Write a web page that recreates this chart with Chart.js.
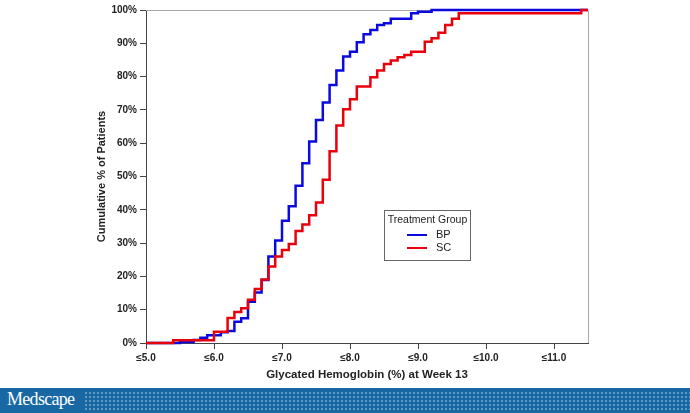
<!DOCTYPE html>
<html>
<head>
<meta charset="utf-8">
<script src="https://cdn.jsdelivr.net/npm/chart.js@4.4.0/dist/chart.umd.min.js"></script>
<style>
  html, body { margin: 0; padding: 0; background: #fff; }
  #wrap { position: relative; width: 690px; height: 388px; }
  #footer { position: relative; width: 690px; height: 25px; background: #1768a3; overflow: hidden; }
  #footer .logo { position: absolute; left: 7px; top: 1px; color: #fff; font: 18px "Liberation Serif", serif; letter-spacing: -0.7px; }
  #footer .dots { position: absolute; left: 84px; right: 0; top: 3px; bottom: 2px;
    background-image: radial-gradient(circle, rgba(255,255,255,0.5) 0.6px, transparent 0.9px);
    background-size: 4px 4px; }
</style>
</head>
<body>
<div id="wrap"><canvas id="grafica"></canvas></div>
<div id="footer"><span class="logo">Medscape</span><div class="dots"></div></div>
<script>
// curvas acumuladas (x = HbA1c, y = % acumulado)
const bpX = [5.0, 5.5, 5.7, 5.8, 5.9, 6.1, 6.2, 6.3, 6.4, 6.5, 6.6, 6.7, 6.8, 6.9, 7.0, 7.1, 7.2, 7.3, 7.4, 7.5, 7.6, 7.7, 7.8, 7.9, 8.0, 8.1, 8.2, 8.3, 8.4, 8.5, 8.6, 8.9, 9.0, 9.2, 11.5];
const bpY = [0, 0.3, 0.9, 1.6, 2.3, 3.2, 3.6, 6.4, 7.4, 12.4, 15.2, 18.9, 26.0, 30.8, 36.7, 41.1, 47.2, 54.0, 60.5, 67.0, 72.2, 77.5, 81.8, 86.0, 87.5, 90.3, 92.7, 94.0, 95.5, 96.0, 97.4, 99.0, 99.5, 100, 100];
const scX = [5.0, 5.4, 6.0, 6.2, 6.3, 6.4, 6.5, 6.6, 6.7, 6.8, 6.9, 7.0, 7.1, 7.2, 7.3, 7.4, 7.5, 7.6, 7.7, 7.8, 7.9, 8.0, 8.1, 8.3, 8.4, 8.5, 8.6, 8.7, 8.8, 8.9, 9.1, 9.2, 9.3, 9.4, 9.5, 9.6, 11.4, 11.5];
const scY = [0, 0.8, 3.4, 7.5, 9.3, 10.4, 13.0, 16.2, 19.1, 23.0, 26.0, 27.9, 29.7, 33.6, 35.6, 38.4, 42.2, 49.0, 57.6, 65.3, 70.2, 73.2, 77.0, 79.8, 81.8, 83.8, 84.8, 85.8, 86.5, 87.5, 90.5, 91.5, 93.2, 95.5, 97.4, 99.0, 100, 100];
const xTicks = [5, 6, 7, 8, 9, 10, 11];
const yTicks = [0, 10, 20, 30, 40, 50, 60, 70, 80, 90, 100];
const groups = ['BP', 'SC'];

const toPoints = (xs, ys) => xs.map((x, i) => ({ x: x, y: ys[i] }));

// borde superior/derecho gris + leyenda dentro del area
const extras = {
    id: 'extras',
    beforeDatasetsDraw(chart) {
        const { ctx, chartArea: a } = chart;
        ctx.save();
        ctx.strokeStyle = '#a8a8a8';
        ctx.lineWidth = 1;
        ctx.beginPath();
        ctx.moveTo(a.left, a.top + 0.5);
        ctx.lineTo(a.right + 0.5, a.top + 0.5);
        ctx.lineTo(a.right + 0.5, a.bottom);
        ctx.stroke();
        ctx.restore();
    },
    afterDatasetsDraw(chart) {
        const { ctx } = chart;
        const bx = 384, by = 210, bw = 86, bh = 50;
        ctx.save();
        ctx.fillStyle = '#fff';
        ctx.fillRect(bx, by, bw, bh);
        ctx.strokeStyle = '#666';
        ctx.lineWidth = 1;
        ctx.strokeRect(bx + 0.5, by + 0.5, bw, bh);
        ctx.fillStyle = '#222';
        ctx.font = '10.5px "Liberation Sans", Arial, sans-serif';
        ctx.textAlign = 'center';
        ctx.textBaseline = 'middle';
        ctx.fillText('Treatment Group', bx + bw / 2 + 0.5, by + 10);
        ctx.textAlign = 'left';
        ctx.font = '11px "Liberation Sans", Arial, sans-serif';
        chart.data.datasets.forEach((ds, i) => {
            const yy = by + 25 + i * 13;
            ctx.strokeStyle = ds.borderColor;
            ctx.lineWidth = 2;
            ctx.beginPath();
            ctx.moveTo(407, yy);
            ctx.lineTo(427, yy);
            ctx.stroke();
            ctx.fillStyle = '#222';
            ctx.fillText(ds.label, 436, yy);
        });
        ctx.restore();
    }
};

const canvas = document.getElementById('grafica');
new Chart(canvas, {
    type: 'line',
    data: {
        datasets: [
            { label: groups[0], data: toPoints(bpX, bpY), borderColor: '#0a0ae0', order: 1 },
            { label: groups[1], data: toPoints(scX, scY), borderColor: '#e8000c', order: 0 }
        ]
    },
    options: {
        responsive: true,
        maintainAspectRatio: false,
        animation: false,
        layout: { padding: { left: 92, right: 102, top: 10, bottom: 0 } },
        datasets: {
            line: {
                stepped: true, borderWidth: 2.5, pointRadius: 0, fill: false,
                borderJoinStyle: 'miter', borderCapStyle: 'butt', clip: 4
            }
        },
        plugins: { legend: { display: false }, tooltip: { enabled: false } },
        scales: {
            x: {
                type: 'linear', min: 5, max: 11.5,
                afterFit: s => { s.height = 45; },
                afterBuildTicks: s => { s.ticks = xTicks.map(v => ({ value: v })); },
                grid: { drawOnChartArea: false, tickLength: 6, color: '#444' },
                border: { color: '#444' },
                ticks: {
                    padding: 3, color: '#222', maxRotation: 0,
                    font: { family: '"Liberation Sans", Arial, sans-serif', size: 10, weight: 'bold' },
                    callback: v => '\u2264' + v.toFixed(1)
                },
                title: {
                    display: true, text: 'Glycated Hemoglobin (%) at Week 13', color: '#222',
                    padding: { top: 0, bottom: 6 },
                    font: { family: '"Liberation Sans", Arial, sans-serif', size: 11.5, weight: 'bold' }
                }
            },
            y: {
                min: 0, max: 100,
                afterFit: s => { s.width = 54; },
                afterBuildTicks: s => { s.ticks = yTicks.map(v => ({ value: v })); },
                grid: { drawOnChartArea: false, tickLength: 6, color: '#444' },
                border: { color: '#444' },
                ticks: {
                    padding: 3, color: '#222',
                    font: { family: '"Liberation Sans", Arial, sans-serif', size: 10, weight: 'bold' },
                    callback: v => v + '%'
                },
                title: {
                    display: true, text: 'Cumulative % of Patients', color: '#222',
                    padding: { top: 3, bottom: 0 },
                    font: { family: '"Liberation Sans", Arial, sans-serif', size: 11, weight: 'bold' }
                }
            }
        }
    },
    plugins: [extras]
});
</script>
</body>
</html>
